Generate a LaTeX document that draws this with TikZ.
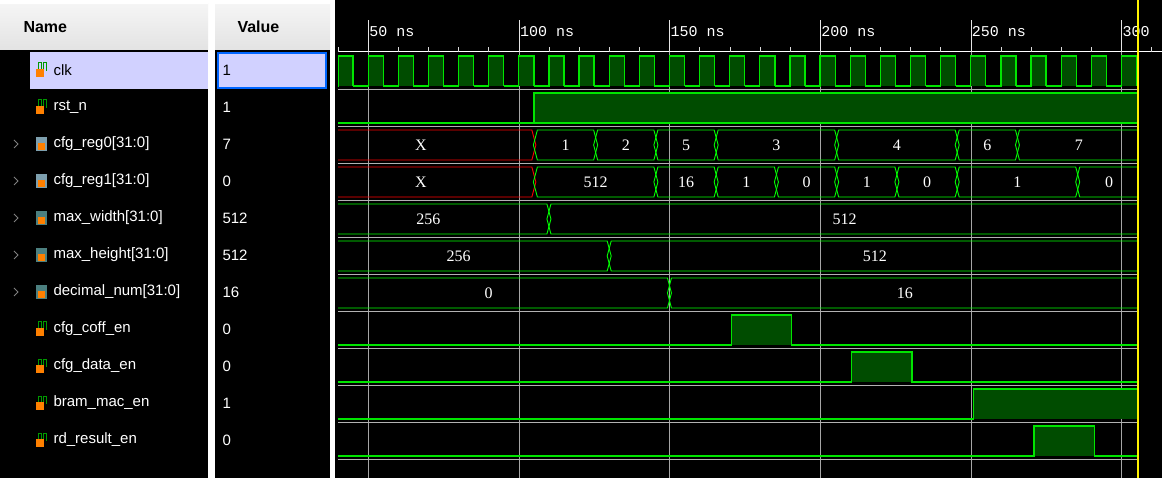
\documentclass[tikz,border=0pt]{standalone}
\usepackage{fontspec}
\setmainfont{Liberation Sans}
\newfontfamily\wavefont{Liberation Serif}
\newfontfamily\rulerfont{Liberation Mono}
\begin{document}
\begin{tikzpicture}[x=1pt,y=-1pt,
  declare function={tx(\t)=217.5+3.013*\t;},
  grn/.style={draw=green!90!black,line width=1.3pt},
  dkg/.style={fill=green!30!black},
  lbl/.style={text=white,font=\fontsize{15}{15}\selectfont,anchor=west},
  wv/.style={text=white,font=\wavefont\fontsize{16}{16}\selectfont},
  rl/.style={text=white,font=\rulerfont\fontsize{15}{15}\selectfont,anchor=south west,inner sep=1pt}]
\useasboundingbox (0,0) rectangle (1162,478);
\fill[black] (0,0) rectangle (1162,478);
% panels
\fill[white] (208,0) rectangle (215,478);
\fill[white] (330,0) rectangle (335,478);
\shade[top color=gray!8,bottom color=gray!22] (0,4) rectangle (208,50);
\shade[top color=gray!8,bottom color=gray!22] (215,4) rectangle (330,50);
\fill[white] (0,0) rectangle (208,4);
\fill[white] (215,0) rectangle (330,4);
\node[anchor=west,font=\bfseries\fontsize{16}{16}\selectfont] (hn) at (20,27) {Name};
\node[anchor=west,font=\bfseries\fontsize{16}{16}\selectfont] (hv) at (234,27) {Value};
\fill[blue!18!white] (30,52) rectangle (208,89);
\fill[blue!18!white] (218,53) rectangle (326,88);
\draw[blue!60!cyan,line width=1.2pt] (218,53) rectangle (326,88);
% names/values
\foreach \n/\v/\b [count=\i from 0] in {clk/1/0,rst\_n/1/0,cfg\_reg0[31:0]/7/1,cfg\_reg1[31:0]/0/1,max\_width[31:0]/512/2,max\_height[31:0]/512/2,decimal\_num[31:0]/16/2,cfg\_coff\_en/0/0,cfg\_data\_en/0/0,bram\_mac\_en/1/0,rd\_result\_en/0/0}{
  \pgfmathsetmacro{\c}{70+37*\i}
  \ifnum\i=0 \def\tc{black}\else\def\tc{white}\fi
  \node[lbl,text=\tc] (n\i) at (50,\c) {\n};
  \node[lbl,text=\tc] (v\i) at (219,\c) {\v};
  \ifnum\b>0
    \draw[gray,line width=1pt] (14,\c-4) -- (18,\c) -- (14,\c+4);
    \ifnum\b=1 \fill[cyan!30!gray] (36,\c-7) rectangle (47,\c+7);
    \else \fill[teal!40!gray] (36,\c-7) rectangle (47,\c+7);\fi
    \fill[orange] (38,\c-1) rectangle (45,\c+6);
  \else
    \draw[green!60!black,line width=1pt] (38,\c+1) -- (38,\c-7) -- (41,\c-7) -- (41,\c+1);
    \draw[green!60!black,line width=1pt] (43,\c+1) -- (43,\c-7) -- (46,\c-7) -- (46,\c+1);
    \fill[orange] (36,\c-1) rectangle (44,\c+7);
  \fi
}
% ruler
\draw[white,line width=1pt] (338,52) -- (1162,52);
\foreach \t in {40,50,...,310}{ \draw[white!70!gray] ({tx(\t)},52) -- ({tx(\t)},47); }
\foreach \t in {50,100,150,200,250}{
  \draw[white!80!gray] ({tx(\t)},52) -- ({tx(\t)},20);
  \node[rl] (r\t) at ({tx(\t)},38) {\t{} ns};
}
\draw[white!80!gray] ({tx(300)},52) -- ({tx(300)},20);
\node[rl] (r300) at ({tx(300)},38) {300};
% grid
\foreach \t in {50,100,...,300}{ \draw[gray!70] ({tx(\t)},52) -- ({tx(\t)},478); }
\foreach \i in {1,...,11}{ \draw[gray!60] (338,{52+37*\i}) -- (1138,{52+37*\i}); }
\begin{scope}
\clip (338,52) rectangle (1138,478);
% clk
\foreach \k in {4,...,30}{
  \fill[dkg] ({tx(10*\k)},56) rectangle ({tx(10*\k+5)},86);
  \draw[grn] ({tx(10*\k-5)},86) -- ({tx(10*\k)},86) -- ({tx(10*\k)},56) -- ({tx(10*\k+5)},56) -- ({tx(10*\k+5)},86);
}
% rst_n
\fill[dkg] ({tx(105)},93) rectangle ({tx(306)},123);
\draw[grn] ({tx(38)},123) -- ({tx(105)},123) -- ({tx(105)},93) -- ({tx(306)},93);
\draw[grn] ({tx(105)},123) -- ({tx(306)},123);
% single bits
\foreach \a/\b/\r in {170.5/190.5/7,210.5/230.5/8,251/330/9,271/291/10}{
  \pgfmathsetmacro{\tp}{52+37*\r+4}
  \pgfmathsetmacro{\bt}{52+37*\r+34}
  \fill[dkg] ({tx(\a)},\tp) rectangle ({tx(\b)},\bt);
  \draw[grn] ({tx(38)},\bt) -- ({tx(\a)},\bt) -- ({tx(\a)},\tp) -- ({tx(\b)},\tp) -- ({tx(\b)},\bt) -- ({tx(330)},\bt);
}
% buses
\def\bus#1#2#3#4#5{%
  \pgfmathsetmacro{\tp}{52+37*#1+4}\pgfmathsetmacro{\bt}{52+37*#1+34}\pgfmathsetmacro{\md}{52+37*#1+19}%
  \draw[#5,line width=0.9pt] ({tx(#2)-2},\md) -- ({tx(#2)+2},\tp) -- ({tx(#3)-2},\tp) -- ({tx(#3)+2},\md) -- ({tx(#3)-2},\bt) -- ({tx(#2)+2},\bt) -- cycle;
  \node[wv] at ({(tx(#2)+tx(#3))/2},\md) {#4};}
\bus{2}{30}{105}{X}{red}
\foreach \a/\b/\v in {105/125/1,125/145/2,145/165/5,165/205/3,205/245/4,245/265/6,265/305.8/7}{\bus{2}{\a+0.5}{\b+0.5}{\v}{green}}
\bus{3}{30}{105}{X}{red}
\foreach \a/\b/\v in {105/145/512,145/165/16,165/185/1,185/205/0,205/225/1,225/245/0,245/285/1,285/305.8/0}{\bus{3}{\a+0.5}{\b+0.5}{\v}{green}}
\bus{4}{30}{110}{256}{green}\bus{4}{110}{306.3}{512}{green}
\bus{5}{30}{130}{256}{green}\bus{5}{130}{306.3}{512}{green}
\bus{6}{30}{150}{0}{green}\bus{6}{150}{306.3}{16}{green}
\end{scope}
\fill[black] (335,52) rectangle (338,478);
\draw[yellow,line width=1.5pt] (1138,0) -- (1138,478);
\end{tikzpicture}
\end{document}
